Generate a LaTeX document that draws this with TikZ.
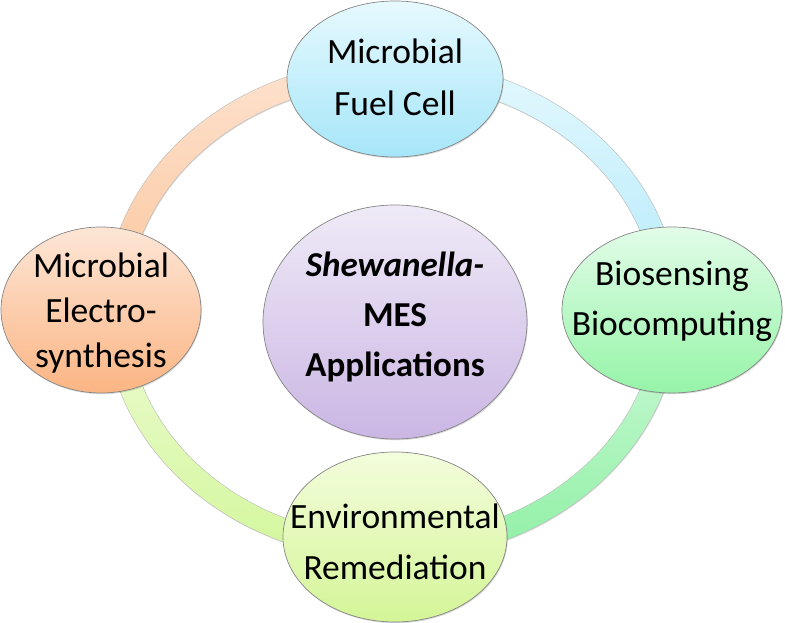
\documentclass[tikz,border=0pt]{standalone}
\usepackage{fontspec}
\setmainfont{Carlito}
\usetikzlibrary{shapes.geometric,shadows}
\definecolor{bordergray}{HTML}{858585}
\definecolor{bandedge}{HTML}{B8B8B8}
\definecolor{mfcA}{HTML}{E6F9FE}\definecolor{mfcB}{HTML}{A6E6F9}
\definecolor{mesA}{HTML}{FDE6D6}\definecolor{mesB}{HTML}{FBB584}
\definecolor{bioA}{HTML}{E2FCE8}\definecolor{bioB}{HTML}{96F4A8}
\definecolor{envA}{HTML}{F3FDDC}\definecolor{envB}{HTML}{D4F597}
\definecolor{cenA}{HTML}{EFEAF7}\definecolor{cenB}{HTML}{CBB6E4}
\definecolor{tlA}{HTML}{FDE2CF}\definecolor{tlB}{HTML}{FBC69C}
\definecolor{trA}{HTML}{E4F8FE}\definecolor{trB}{HTML}{B3EAFA}
\definecolor{brA}{HTML}{CFF9D9}\definecolor{brB}{HTML}{8FF0A4}
\definecolor{blA}{HTML}{EDFBD3}\definecolor{blB}{HTML}{D3F79C}
\newcommand\ringseg[4]{%
  \path[band, top color=#3, bottom color=#4]
    ([shift={(R)}]#1:287.5 and 250.5)
      arc[start angle=#1, end angle=#2, x radius=287.5pt, y radius=250.5pt]
    -- ([shift={(R)}]#2:264.5 and 227.5)
      arc[start angle=#2, end angle=#1, x radius=264.5pt, y radius=227.5pt]
    -- cycle;}
\begin{document}
\begin{tikzpicture}[x=1pt,y=1pt,
  bubble/.style={ellipse, draw=bordergray, line width=0.7pt, inner sep=0pt,
    drop shadow={opacity=0.3, shadow xshift=0.8pt, shadow yshift=-1.2pt}},
  label35/.style={inner sep=0pt, align=center, text=black},
  band/.style={draw=bandedge, line width=0.4pt,
    drop shadow={opacity=0.25, shadow xshift=0.6pt, shadow yshift=-1pt}}
]
\useasboundingbox (0,0) rectangle (785,623);
\coordinate (R) at (392,313);
% ring
\ringseg{90}{180}{tlA}{tlB}
\ringseg{0}{90}{trA}{trB}
\ringseg{270}{360}{brA}{brB}
\ringseg{180}{270}{blA}{blB}
% bubbles
\node[bubble, minimum width=216pt, minimum height=156pt, top color=mfcA, bottom color=mfcB] (mfc) at (395,544) {};
\node[bubble, minimum width=200pt, minimum height=166pt, top color=mesA, bottom color=mesB] (mes) at (101,313) {};
\node[bubble, minimum width=220pt, minimum height=166pt, top color=bioA, bottom color=bioB] (bio) at (672,313) {};
\node[bubble, minimum width=224pt, minimum height=170pt, top color=envA, bottom color=envB] (env) at (395,86) {};
\node[bubble, minimum width=264pt, minimum height=234pt, top color=cenA, bottom color=cenB] (cen) at (395,301) {};
% texts
\node[label35, font=\fontsize{35.5}{52}\selectfont] (mfc-t) at ([yshift=2pt]mfc.center) {Microbial\\Fuel Cell};
\node[label35, font=\fontsize{35.5}{45}\selectfont] (mes-t) at ([yshift=-3.5pt]mes.center) {Microbial\\Electro-\\synthesis};
\node[label35, font=\fontsize{35.5}{50}\selectfont] (bio-t) at ([yshift=8.5pt]bio.center) {Biosensing\\Biocomputing};
\node[label35, font=\fontsize{35.5}{51}\selectfont] (env-t) at ([yshift=-4.5pt]env.center) {Environmental\\Remediation};
\node[label35, font=\bfseries\fontsize{35}{50}\selectfont] (cen-t) at ([yshift=5.5pt]cen.center) {\textit{Shewanella-}\\MES\\Applications};
\end{tikzpicture}
\end{document}
